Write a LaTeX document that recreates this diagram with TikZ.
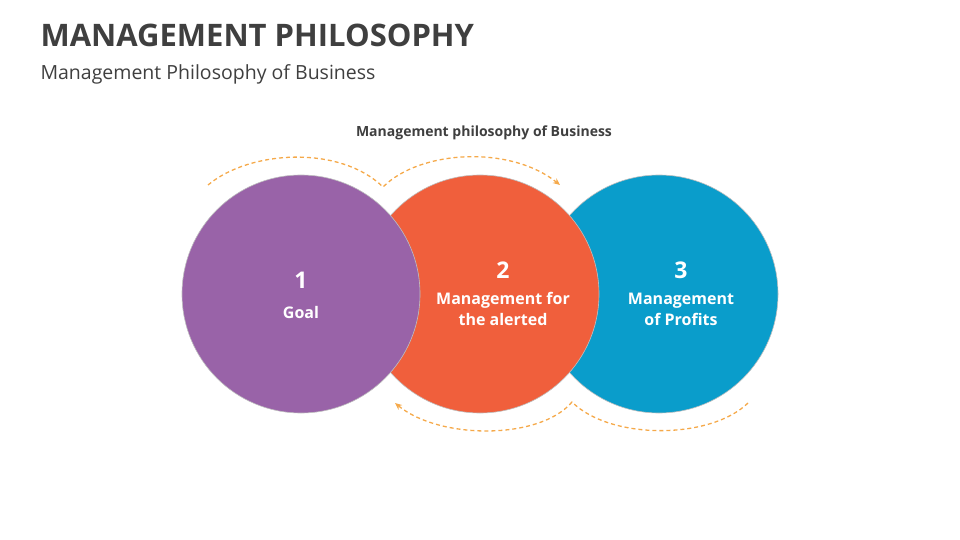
\documentclass[tikz,border=0pt]{standalone}
\usepackage{fontspec}
\setmainfont{Open Sans}
\usetikzlibrary{arrows.meta}
\definecolor{cpur}{HTML}{9963A8}
\definecolor{cora}{HTML}{F05F3C}
\definecolor{cblu}{HTML}{0A9DCB}
\definecolor{cdash}{HTML}{F5A94A}
\definecolor{ctxt}{HTML}{3F3F3F}
\tikzset{circ/.style={circle,minimum size=238pt,inner sep=0pt,draw=black!25,line width=0.6pt},
lab/.style={text=white,font=\bfseries\fontsize{16}{21}\selectfont,align=center},
num/.style={text=white,font=\bfseries\fontsize{23}{26}\selectfont},
dsh/.style={draw=cdash,line width=1.3pt,dash pattern=on 4pt off 3pt,-{Stealth[length=7pt,width=6pt]}}}
\begin{document}
\begin{tikzpicture}[x=1pt,y=-1pt]
\useasboundingbox (0,0) rectangle (960,540);
\node[anchor=west,text=ctxt,font=\bfseries\fontsize{31}{36}\selectfont] (t) at (37,35) {MANAGEMENT PHILOSOPHY};
\node[anchor=west,text=ctxt,font=\fontsize{19.5}{24}\selectfont] (s) at (37,74) {Management Philosophy of Business};
\node[text=ctxt,font=\bfseries\fontsize{14}{17}\selectfont] (h) at (484,133) {Management philosophy of Business};
\node[circ,fill=cblu] (c3) at (659,294) {};
\node[circ,fill=cora] (c2) at (480,294) {};
\node[circ,fill=cpur] (c1) at (301,294) {};
\node[num] (n1) at (301,280) {1};
\node[lab] (l1) at (301,312) {Goal};
\node[num] (n2) at (503,270) {2};
\node[lab] (l2) at (503,309) {Management for\\the alerted};
\node[num] (n3) at (681,270) {3};
\node[lab] (l3) at (681,309) {Management\\of Profits};
\coordinate (a0) at (208,185); \coordinate (a1) at (383,187); \coordinate (a2) at (560,185);
\draw[dsh] (a0) .. controls (250,150) and (340,145) .. (a1) .. controls (420,150) and (510,145) .. (a2);
\coordinate (b0) at (748,403); \coordinate (b1) at (572,402); \coordinate (b2) at (395,403);
\draw[dsh] (b0) .. controls (710,440) and (610,440) .. (b1) .. controls (540,440) and (440,440) .. (b2);
\end{tikzpicture}
\end{document}
